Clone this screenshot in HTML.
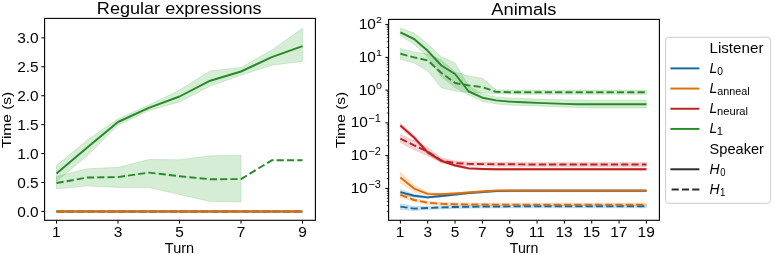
<!DOCTYPE html>
<html><head><meta charset="utf-8"><style>
html,body{margin:0;padding:0;background:#fff;}
svg{display:block;will-change:transform;}
text{font-family:"Liberation Sans", sans-serif;fill:#000;}
.t{font-size:13.6px;}
.s{font-size:9.6px;}
.sub{font-size:9.6px;font-style:normal;}
.ti{font-size:16px;}
</style></head><body>
<svg width="775" height="254" viewBox="0 0 775 254">
<rect width="775" height="254" fill="#fff"/>
<clipPath id="cl"><rect x="44.6" y="18.4" width="270.79999999999995" height="201.9"/></clipPath><g clip-path="url(#cl)"><path d="M56.50,165.50 L87.25,140.00 L118.00,118.70 L148.75,105.00 L179.50,90.00 L210.25,70.70 L241.00,67.50 L271.75,50.00 L302.50,28.30 L302.50,61.40 L271.75,65.30 L241.00,75.30 L210.25,86.00 L179.50,102.00 L148.75,110.70 L118.00,125.20 L87.25,155.70 L56.50,181.50Z" fill="#2ca02c" fill-opacity="0.2" stroke="#2ca02c" stroke-opacity="0.2" stroke-width="0.8"/><path d="M56.50,176.40 L87.25,168.70 L118.00,167.30 L148.75,159.50 L179.50,159.70 L210.25,155.80 L241.00,155.20 L241.00,202.00 L210.25,201.50 L179.50,194.60 L148.75,187.60 L118.00,187.40 L87.25,186.00 L56.50,189.00Z" fill="#2ca02c" fill-opacity="0.2" stroke="#2ca02c" stroke-opacity="0.2" stroke-width="0.8"/><polyline points="56.50,211.40 87.25,211.40 118.00,211.40 148.75,211.40 179.50,211.40 210.25,211.40 241.00,211.40 271.75,211.40 302.50,211.40" fill="none" stroke="#1a679c" stroke-width="1.95" stroke-linejoin="round" stroke-linecap="butt"/><polyline points="56.50,211.40 87.25,211.40 118.00,211.40 148.75,211.40 179.50,211.40 210.25,211.40 241.00,211.40 271.75,211.40 302.50,211.40" fill="none" stroke="#1a679c" stroke-width="1.95" stroke-linejoin="round" stroke-linecap="butt" stroke-dasharray="7.2,3.1" stroke-dashoffset="0"/><polyline points="56.50,211.40 87.25,211.40 118.00,211.40 148.75,211.40 179.50,211.40 210.25,211.40 241.00,211.40 271.75,211.40 302.50,211.40" fill="none" stroke="#dd6e0c" stroke-width="1.95" stroke-linejoin="round" stroke-linecap="butt"/><polyline points="56.50,211.40 87.25,211.40 118.00,211.40 148.75,211.40 179.50,211.40 210.25,211.40 241.00,211.40 271.75,211.40 302.50,211.40" fill="none" stroke="#dd6e0c" stroke-width="1.95" stroke-linejoin="round" stroke-linecap="butt" stroke-dasharray="7.2,3.1" stroke-dashoffset="0"/><polyline points="56.50,173.50 87.25,147.50 118.00,122.00 148.75,107.80 179.50,96.50 210.25,80.70 241.00,71.50 271.75,57.10 302.50,46.20" fill="none" stroke="#268b26" stroke-width="1.95" stroke-linejoin="round" stroke-linecap="butt"/><polyline points="56.50,183.00 87.25,177.50 118.00,177.10 148.75,172.60 179.50,176.20 210.25,179.20 241.00,179.10 271.75,160.30 302.50,160.30" fill="none" stroke="#268b26" stroke-width="1.95" stroke-linejoin="round" stroke-linecap="butt" stroke-dasharray="7.2,3.1" stroke-dashoffset="0"/></g><clipPath id="cr"><rect x="388.6" y="19.4" width="270.79999999999995" height="200.9"/></clipPath><g clip-path="url(#cr)"><path d="M400.40,189.60 L414.07,194.20 L427.73,196.40 L441.40,195.00 L455.07,193.50 L468.73,192.00 L482.40,191.00 L496.07,190.00 L509.74,189.90 L523.40,189.80 L537.07,189.80 L550.74,189.80 L564.40,189.80 L578.07,189.80 L591.74,189.80 L605.40,189.80 L619.07,189.80 L632.74,189.80 L646.41,189.80 L646.41,191.80 L632.74,191.80 L619.07,191.80 L605.40,191.80 L591.74,191.80 L578.07,191.80 L564.40,191.80 L550.74,191.80 L537.07,191.80 L523.40,191.80 L509.74,191.90 L496.07,192.00 L482.40,193.00 L468.73,194.00 L455.07,195.50 L441.40,197.00 L427.73,198.40 L414.07,197.20 L400.40,194.60Z" fill="#1f77b4" fill-opacity="0.2" stroke="#1f77b4" stroke-opacity="0.2" stroke-width="0.8"/><path d="M400.40,203.60 L414.07,206.60 L427.73,206.50 L441.40,205.90 L455.07,205.50 L468.73,205.30 L482.40,205.10 L496.07,205.00 L509.74,204.90 L523.40,204.80 L537.07,204.80 L550.74,204.80 L564.40,204.80 L578.07,204.80 L591.74,204.80 L605.40,204.80 L619.07,204.80 L632.74,204.80 L646.41,204.80 L646.41,207.80 L632.74,207.80 L619.07,207.80 L605.40,207.80 L591.74,207.80 L578.07,207.80 L564.40,207.80 L550.74,207.80 L537.07,207.80 L523.40,207.80 L509.74,207.90 L496.07,208.00 L482.40,208.10 L468.73,208.30 L455.07,208.50 L441.40,208.90 L427.73,209.50 L414.07,210.60 L400.40,209.60Z" fill="#1f77b4" fill-opacity="0.2" stroke="#1f77b4" stroke-opacity="0.2" stroke-width="0.8"/><path d="M400.40,171.90 L414.07,185.10 L427.73,192.40 L441.40,193.20 L455.07,192.50 L468.73,191.50 L482.40,190.50 L496.07,189.60 L509.74,189.50 L523.40,189.60 L537.07,189.60 L550.74,189.60 L564.40,189.60 L578.07,189.60 L591.74,189.60 L605.40,189.60 L619.07,189.60 L632.74,189.60 L646.41,189.60 L646.41,191.60 L632.74,191.60 L619.07,191.60 L605.40,191.60 L591.74,191.60 L578.07,191.60 L564.40,191.60 L550.74,191.60 L537.07,191.60 L523.40,191.60 L509.74,191.50 L496.07,191.60 L482.40,192.50 L468.73,193.50 L455.07,194.50 L441.40,195.20 L427.73,195.40 L414.07,192.10 L400.40,182.90Z" fill="#ff7f0e" fill-opacity="0.2" stroke="#ff7f0e" stroke-opacity="0.2" stroke-width="0.8"/><path d="M400.40,192.30 L414.07,198.50 L427.73,201.20 L441.40,202.30 L455.07,202.70 L468.73,202.90 L482.40,203.00 L496.07,203.10 L509.74,203.10 L523.40,203.10 L537.07,203.10 L550.74,203.10 L564.40,203.10 L578.07,203.10 L591.74,203.10 L605.40,203.10 L619.07,203.10 L632.74,203.10 L646.41,203.10 L646.41,206.10 L632.74,206.10 L619.07,206.10 L605.40,206.10 L591.74,206.10 L578.07,206.10 L564.40,206.10 L550.74,206.10 L537.07,206.10 L523.40,206.10 L509.74,206.10 L496.07,206.10 L482.40,206.00 L468.73,205.90 L455.07,205.70 L441.40,205.30 L427.73,204.20 L414.07,201.50 L400.40,197.30Z" fill="#ff7f0e" fill-opacity="0.2" stroke="#ff7f0e" stroke-opacity="0.2" stroke-width="0.8"/><path d="M400.40,123.10 L414.07,135.50 L427.73,150.40 L441.40,159.60 L455.07,164.50 L468.73,167.40 L482.40,168.00 L496.07,168.30 L509.74,168.30 L523.40,168.20 L537.07,168.20 L550.74,168.20 L564.40,168.20 L578.07,168.20 L591.74,168.20 L605.40,168.20 L619.07,168.20 L632.74,168.20 L646.41,168.20 L646.41,170.20 L632.74,170.20 L619.07,170.20 L605.40,170.20 L591.74,170.20 L578.07,170.20 L564.40,170.20 L550.74,170.20 L537.07,170.20 L523.40,170.20 L509.74,170.30 L496.07,170.30 L482.40,170.00 L468.73,169.40 L455.07,166.50 L441.40,162.00 L427.73,154.40 L414.07,139.50 L400.40,128.10Z" fill="#d62728" fill-opacity="0.2" stroke="#d62728" stroke-opacity="0.2" stroke-width="0.8"/><path d="M400.40,134.60 L414.07,140.80 L427.73,147.60 L441.40,158.00 L455.07,161.10 L468.73,161.90 L482.40,162.10 L496.07,162.20 L509.74,162.30 L523.40,162.40 L537.07,162.40 L550.74,162.40 L564.40,162.40 L578.07,162.40 L591.74,162.40 L605.40,162.40 L619.07,162.40 L632.74,162.40 L646.41,162.40 L646.41,166.40 L632.74,166.40 L619.07,166.40 L605.40,166.40 L591.74,166.40 L578.07,166.40 L564.40,166.40 L550.74,166.40 L537.07,166.40 L523.40,166.40 L509.74,166.30 L496.07,166.20 L482.40,166.10 L468.73,165.90 L455.07,165.10 L441.40,163.00 L427.73,155.60 L414.07,149.80 L400.40,142.60Z" fill="#d62728" fill-opacity="0.2" stroke="#d62728" stroke-opacity="0.2" stroke-width="0.8"/><path d="M400.40,28.00 L414.07,33.00 L427.73,44.00 L441.40,56.80 L455.07,63.00 L468.73,86.00 L482.40,94.00 L496.07,97.00 L509.74,98.00 L523.40,98.60 L537.07,99.10 L550.74,99.50 L564.40,99.80 L578.07,100.00 L591.74,100.20 L605.40,100.20 L619.07,100.20 L632.74,100.20 L646.41,100.20 L646.41,108.00 L632.74,108.00 L619.07,108.00 L605.40,108.00 L591.74,108.00 L578.07,107.50 L564.40,107.00 L550.74,106.50 L537.07,106.00 L523.40,105.50 L509.74,105.00 L496.07,103.90 L482.40,101.30 L468.73,95.00 L455.07,87.60 L441.40,76.90 L427.73,57.00 L414.07,44.00 L400.40,36.00Z" fill="#2ca02c" fill-opacity="0.2" stroke="#2ca02c" stroke-opacity="0.2" stroke-width="0.8"/><path d="M400.40,48.40 L414.07,51.90 L427.73,54.00 L441.40,60.00 L455.07,72.00 L468.73,76.00 L482.40,78.30 L496.07,89.80 L509.74,90.00 L523.40,90.20 L537.07,90.20 L550.74,90.20 L564.40,90.20 L578.07,90.20 L591.74,90.20 L605.40,90.20 L619.07,90.20 L632.74,90.20 L646.41,90.20 L646.41,94.30 L632.74,94.30 L619.07,94.30 L605.40,94.30 L591.74,94.30 L578.07,94.30 L564.40,94.30 L550.74,94.30 L537.07,94.30 L523.40,94.30 L509.74,94.00 L496.07,93.80 L482.40,93.00 L468.73,92.50 L455.07,91.00 L441.40,88.00 L427.73,71.00 L414.07,63.00 L400.40,59.50Z" fill="#2ca02c" fill-opacity="0.2" stroke="#2ca02c" stroke-opacity="0.2" stroke-width="0.8"/><polyline points="400.40,192.10 414.07,195.70 427.73,197.40 441.40,196.00 455.07,194.50 468.73,193.00 482.40,192.00 496.07,191.00 509.74,190.90 523.40,190.80 537.07,190.80 550.74,190.80 564.40,190.80 578.07,190.80 591.74,190.80 605.40,190.80 619.07,190.80 632.74,190.80 646.41,190.80" fill="none" stroke="#1a679c" stroke-width="1.95" stroke-linejoin="round" stroke-linecap="butt"/><polyline points="400.40,206.60 414.07,208.60 427.73,208.00 441.40,207.40 455.07,207.00 468.73,206.80 482.40,206.60 496.07,206.50 509.74,206.40 523.40,206.30 537.07,206.30 550.74,206.30 564.40,206.30 578.07,206.30 591.74,206.30 605.40,206.30 619.07,206.30 632.74,206.30 646.41,206.30" fill="none" stroke="#1a679c" stroke-width="1.95" stroke-linejoin="round" stroke-linecap="butt" stroke-dasharray="7.2,3.1" stroke-dashoffset="0"/><polyline points="400.40,177.40 414.07,188.60 427.73,193.90 441.40,194.20 455.07,193.50 468.73,192.50 482.40,191.50 496.07,190.60 509.74,190.50 523.40,190.60 537.07,190.60 550.74,190.60 564.40,190.60 578.07,190.60 591.74,190.60 605.40,190.60 619.07,190.60 632.74,190.60 646.41,190.60" fill="none" stroke="#dd6e0c" stroke-width="1.95" stroke-linejoin="round" stroke-linecap="butt"/><polyline points="400.40,194.80 414.07,200.00 427.73,202.70 441.40,203.80 455.07,204.20 468.73,204.40 482.40,204.50 496.07,204.60 509.74,204.60 523.40,204.60 537.07,204.60 550.74,204.60 564.40,204.60 578.07,204.60 591.74,204.60 605.40,204.60 619.07,204.60 632.74,204.60 646.41,204.60" fill="none" stroke="#dd6e0c" stroke-width="1.95" stroke-linejoin="round" stroke-linecap="butt" stroke-dasharray="7.2,3.1" stroke-dashoffset="0"/><polyline points="400.40,125.60 414.07,137.50 427.73,152.40 441.40,160.80 455.07,165.50 468.73,168.40 482.40,169.00 496.07,169.30 509.74,169.30 523.40,169.20 537.07,169.20 550.74,169.20 564.40,169.20 578.07,169.20 591.74,169.20 605.40,169.20 619.07,169.20 632.74,169.20 646.41,169.20" fill="none" stroke="#ba2122" stroke-width="1.95" stroke-linejoin="round" stroke-linecap="butt"/><polyline points="400.40,138.60 414.07,145.30 427.73,151.60 441.40,160.50 455.07,163.10 468.73,163.90 482.40,164.10 496.07,164.20 509.74,164.30 523.40,164.40 537.07,164.40 550.74,164.40 564.40,164.40 578.07,164.40 591.74,164.40 605.40,164.40 619.07,164.40 632.74,164.40 646.41,164.40" fill="none" stroke="#ba2122" stroke-width="1.95" stroke-linejoin="round" stroke-linecap="butt" stroke-dasharray="7.2,3.1" stroke-dashoffset="0"/><polyline points="400.40,32.30 414.07,39.00 427.73,50.80 441.40,65.50 455.07,74.00 468.73,91.50 482.40,97.70 496.07,100.40 509.74,101.60 523.40,102.30 537.07,102.90 550.74,103.40 564.40,103.90 578.07,104.20 591.74,104.30 605.40,104.30 619.07,104.30 632.74,104.30 646.41,104.30" fill="none" stroke="#268b26" stroke-width="1.95" stroke-linejoin="round" stroke-linecap="butt"/><polyline points="400.40,53.80 414.07,57.40 427.73,60.40 441.40,73.00 455.07,83.00 468.73,85.40 482.40,87.10 496.07,91.90 509.74,92.20 523.40,92.30 537.07,92.30 550.74,92.30 564.40,92.30 578.07,92.30 591.74,92.30 605.40,92.30 619.07,92.30 632.74,92.30 646.41,92.30" fill="none" stroke="#268b26" stroke-width="1.95" stroke-linejoin="round" stroke-linecap="butt" stroke-dasharray="7.2,3.1" stroke-dashoffset="0"/></g><rect x="44.6" y="18.4" width="270.79999999999995" height="201.9" fill="none" stroke="#000" stroke-width="1.1"/><rect x="388.6" y="19.4" width="270.79999999999995" height="200.9" fill="none" stroke="#000" stroke-width="1.1"/><line x1="41.300000000000004" y1="211.40" x2="44.6" y2="211.40" stroke="#000" stroke-width="1"/><text transform="translate(17.15,216.90) scale(1.0800,1)" font-size="14.3">0.0</text><line x1="41.300000000000004" y1="182.48" x2="44.6" y2="182.48" stroke="#000" stroke-width="1"/><text transform="translate(17.15,187.98) scale(1.0800,1)" font-size="14.3">0.5</text><line x1="41.300000000000004" y1="153.56" x2="44.6" y2="153.56" stroke="#000" stroke-width="1"/><text transform="translate(17.15,159.06) scale(1.0800,1)" font-size="14.3">1.0</text><line x1="41.300000000000004" y1="124.64" x2="44.6" y2="124.64" stroke="#000" stroke-width="1"/><text transform="translate(17.15,130.14) scale(1.0800,1)" font-size="14.3">1.5</text><line x1="41.300000000000004" y1="95.72" x2="44.6" y2="95.72" stroke="#000" stroke-width="1"/><text transform="translate(17.15,101.22) scale(1.0800,1)" font-size="14.3">2.0</text><line x1="41.300000000000004" y1="66.80" x2="44.6" y2="66.80" stroke="#000" stroke-width="1"/><text transform="translate(17.15,72.30) scale(1.0800,1)" font-size="14.3">2.5</text><line x1="41.300000000000004" y1="37.88" x2="44.6" y2="37.88" stroke="#000" stroke-width="1"/><text transform="translate(17.15,43.38) scale(1.0800,1)" font-size="14.3">3.0</text><line x1="56.50" y1="220.3" x2="56.50" y2="223.60000000000002" stroke="#000" stroke-width="1"/><text transform="translate(51.94,236.50) scale(1.0800,1)" font-size="14.3">1</text><line x1="118.00" y1="220.3" x2="118.00" y2="223.60000000000002" stroke="#000" stroke-width="1"/><text transform="translate(113.75,236.50) scale(1.0800,1)" font-size="14.3">3</text><line x1="179.50" y1="220.3" x2="179.50" y2="223.60000000000002" stroke="#000" stroke-width="1"/><text transform="translate(175.25,236.50) scale(1.0800,1)" font-size="14.3">5</text><line x1="241.00" y1="220.3" x2="241.00" y2="223.60000000000002" stroke="#000" stroke-width="1"/><text transform="translate(236.68,236.50) scale(1.0800,1)" font-size="14.3">7</text><line x1="302.50" y1="220.3" x2="302.50" y2="223.60000000000002" stroke="#000" stroke-width="1"/><text transform="translate(298.18,236.50) scale(1.0800,1)" font-size="14.3">9</text><line x1="400.40" y1="220.3" x2="400.40" y2="223.60000000000002" stroke="#000" stroke-width="1"/><text transform="translate(395.84,236.50) scale(1.0800,1)" font-size="14.3">1</text><line x1="427.73" y1="220.3" x2="427.73" y2="223.60000000000002" stroke="#000" stroke-width="1"/><text transform="translate(423.49,236.50) scale(1.0800,1)" font-size="14.3">3</text><line x1="455.07" y1="220.3" x2="455.07" y2="223.60000000000002" stroke="#000" stroke-width="1"/><text transform="translate(450.82,236.50) scale(1.0800,1)" font-size="14.3">5</text><line x1="482.40" y1="220.3" x2="482.40" y2="223.60000000000002" stroke="#000" stroke-width="1"/><text transform="translate(478.07,236.50) scale(1.0800,1)" font-size="14.3">7</text><line x1="509.73" y1="220.3" x2="509.73" y2="223.60000000000002" stroke="#000" stroke-width="1"/><text transform="translate(505.41,236.50) scale(1.0800,1)" font-size="14.3">9</text><line x1="537.06" y1="220.3" x2="537.06" y2="223.60000000000002" stroke="#000" stroke-width="1"/><text transform="translate(528.80,236.50) scale(1.0800,1)" font-size="14.3">11</text><line x1="564.40" y1="220.3" x2="564.40" y2="223.60000000000002" stroke="#000" stroke-width="1"/><text transform="translate(555.52,236.50) scale(1.0800,1)" font-size="14.3">13</text><line x1="591.73" y1="220.3" x2="591.73" y2="223.60000000000002" stroke="#000" stroke-width="1"/><text transform="translate(582.85,236.50) scale(1.0800,1)" font-size="14.3">15</text><line x1="619.06" y1="220.3" x2="619.06" y2="223.60000000000002" stroke="#000" stroke-width="1"/><text transform="translate(610.26,236.50) scale(1.0800,1)" font-size="14.3">17</text><line x1="646.40" y1="220.3" x2="646.40" y2="223.60000000000002" stroke="#000" stroke-width="1"/><text transform="translate(637.59,236.50) scale(1.0800,1)" font-size="14.3">19</text><line x1="386.8" y1="211.30" x2="388.6" y2="211.30" stroke="#000" stroke-width="0.75"/><line x1="386.8" y1="205.53" x2="388.6" y2="205.53" stroke="#000" stroke-width="0.75"/><line x1="386.8" y1="201.44" x2="388.6" y2="201.44" stroke="#000" stroke-width="0.75"/><line x1="386.8" y1="198.26" x2="388.6" y2="198.26" stroke="#000" stroke-width="0.75"/><line x1="386.8" y1="195.67" x2="388.6" y2="195.67" stroke="#000" stroke-width="0.75"/><line x1="386.8" y1="193.47" x2="388.6" y2="193.47" stroke="#000" stroke-width="0.75"/><line x1="386.8" y1="191.57" x2="388.6" y2="191.57" stroke="#000" stroke-width="0.75"/><line x1="386.8" y1="189.90" x2="388.6" y2="189.90" stroke="#000" stroke-width="0.75"/><line x1="385.3" y1="188.40" x2="388.6" y2="188.40" stroke="#000" stroke-width="1"/><line x1="386.8" y1="178.54" x2="388.6" y2="178.54" stroke="#000" stroke-width="0.75"/><line x1="386.8" y1="172.77" x2="388.6" y2="172.77" stroke="#000" stroke-width="0.75"/><line x1="386.8" y1="168.68" x2="388.6" y2="168.68" stroke="#000" stroke-width="0.75"/><line x1="386.8" y1="165.50" x2="388.6" y2="165.50" stroke="#000" stroke-width="0.75"/><line x1="386.8" y1="162.91" x2="388.6" y2="162.91" stroke="#000" stroke-width="0.75"/><line x1="386.8" y1="160.71" x2="388.6" y2="160.71" stroke="#000" stroke-width="0.75"/><line x1="386.8" y1="158.81" x2="388.6" y2="158.81" stroke="#000" stroke-width="0.75"/><line x1="386.8" y1="157.14" x2="388.6" y2="157.14" stroke="#000" stroke-width="0.75"/><line x1="385.3" y1="155.64" x2="388.6" y2="155.64" stroke="#000" stroke-width="1"/><line x1="386.8" y1="145.78" x2="388.6" y2="145.78" stroke="#000" stroke-width="0.75"/><line x1="386.8" y1="140.01" x2="388.6" y2="140.01" stroke="#000" stroke-width="0.75"/><line x1="386.8" y1="135.92" x2="388.6" y2="135.92" stroke="#000" stroke-width="0.75"/><line x1="386.8" y1="132.74" x2="388.6" y2="132.74" stroke="#000" stroke-width="0.75"/><line x1="386.8" y1="130.15" x2="388.6" y2="130.15" stroke="#000" stroke-width="0.75"/><line x1="386.8" y1="127.95" x2="388.6" y2="127.95" stroke="#000" stroke-width="0.75"/><line x1="386.8" y1="126.05" x2="388.6" y2="126.05" stroke="#000" stroke-width="0.75"/><line x1="386.8" y1="124.38" x2="388.6" y2="124.38" stroke="#000" stroke-width="0.75"/><line x1="385.3" y1="122.88" x2="388.6" y2="122.88" stroke="#000" stroke-width="1"/><line x1="386.8" y1="113.02" x2="388.6" y2="113.02" stroke="#000" stroke-width="0.75"/><line x1="386.8" y1="107.25" x2="388.6" y2="107.25" stroke="#000" stroke-width="0.75"/><line x1="386.8" y1="103.16" x2="388.6" y2="103.16" stroke="#000" stroke-width="0.75"/><line x1="386.8" y1="99.98" x2="388.6" y2="99.98" stroke="#000" stroke-width="0.75"/><line x1="386.8" y1="97.39" x2="388.6" y2="97.39" stroke="#000" stroke-width="0.75"/><line x1="386.8" y1="95.19" x2="388.6" y2="95.19" stroke="#000" stroke-width="0.75"/><line x1="386.8" y1="93.29" x2="388.6" y2="93.29" stroke="#000" stroke-width="0.75"/><line x1="386.8" y1="91.62" x2="388.6" y2="91.62" stroke="#000" stroke-width="0.75"/><line x1="385.3" y1="90.12" x2="388.6" y2="90.12" stroke="#000" stroke-width="1"/><line x1="386.8" y1="80.26" x2="388.6" y2="80.26" stroke="#000" stroke-width="0.75"/><line x1="386.8" y1="74.49" x2="388.6" y2="74.49" stroke="#000" stroke-width="0.75"/><line x1="386.8" y1="70.40" x2="388.6" y2="70.40" stroke="#000" stroke-width="0.75"/><line x1="386.8" y1="67.22" x2="388.6" y2="67.22" stroke="#000" stroke-width="0.75"/><line x1="386.8" y1="64.63" x2="388.6" y2="64.63" stroke="#000" stroke-width="0.75"/><line x1="386.8" y1="62.43" x2="388.6" y2="62.43" stroke="#000" stroke-width="0.75"/><line x1="386.8" y1="60.53" x2="388.6" y2="60.53" stroke="#000" stroke-width="0.75"/><line x1="386.8" y1="58.86" x2="388.6" y2="58.86" stroke="#000" stroke-width="0.75"/><line x1="385.3" y1="57.36" x2="388.6" y2="57.36" stroke="#000" stroke-width="1"/><line x1="386.8" y1="47.50" x2="388.6" y2="47.50" stroke="#000" stroke-width="0.75"/><line x1="386.8" y1="41.73" x2="388.6" y2="41.73" stroke="#000" stroke-width="0.75"/><line x1="386.8" y1="37.64" x2="388.6" y2="37.64" stroke="#000" stroke-width="0.75"/><line x1="386.8" y1="34.46" x2="388.6" y2="34.46" stroke="#000" stroke-width="0.75"/><line x1="386.8" y1="31.87" x2="388.6" y2="31.87" stroke="#000" stroke-width="0.75"/><line x1="386.8" y1="29.67" x2="388.6" y2="29.67" stroke="#000" stroke-width="0.75"/><line x1="386.8" y1="27.77" x2="388.6" y2="27.77" stroke="#000" stroke-width="0.75"/><line x1="386.8" y1="26.10" x2="388.6" y2="26.10" stroke="#000" stroke-width="0.75"/><line x1="385.3" y1="24.60" x2="388.6" y2="24.60" stroke="#000" stroke-width="1"/><text transform="translate(358.77,29.20) scale(1.0800,1)" font-size="14.3">10</text><text transform="translate(376.06,23.40) scale(1.12,1)" font-size="9.6">2</text><text transform="translate(358.77,61.96) scale(1.0800,1)" font-size="14.3">10</text><text transform="translate(376.06,56.16) scale(1.12,1)" font-size="9.6">1</text><text transform="translate(358.77,94.72) scale(1.0800,1)" font-size="14.3">10</text><text transform="translate(376.06,88.92) scale(1.12,1)" font-size="9.6">0</text><text transform="translate(350.77,127.48) scale(1.0800,1)" font-size="14.3">10</text><text transform="translate(368.35,122.28) scale(1.06,1)" font-size="10.4">−1</text><text transform="translate(350.77,160.24) scale(1.0800,1)" font-size="14.3">10</text><text transform="translate(368.35,155.04) scale(1.06,1)" font-size="10.4">−2</text><text transform="translate(350.77,193.00) scale(1.0800,1)" font-size="14.3">10</text><text transform="translate(368.35,187.80) scale(1.06,1)" font-size="10.4">−3</text><text transform="translate(96.85,14.10) scale(1.1030,1)" font-size="16.4">Regular expressions</text><text transform="translate(491.35,14.80) scale(1.1182,1)" font-size="16.4">Animals</text><text transform="translate(164.86,252.50) scale(1.0363,1)" font-size="14.0">Turn</text><text transform="translate(509.82,252.50) scale(1.0141,1)" font-size="14.0">Turn</text><text transform="translate(11.40,148.01) rotate(-90) scale(1.1583,1)" font-size="13.4">Time (s)</text><text transform="translate(345.00,148.01) rotate(-90) scale(1.1583,1)" font-size="13.4">Time (s)</text><rect x="665.6" y="37.3" width="104.8" height="166.0" rx="2.8" ry="2.8" fill="#fff" fill-opacity="0.8" stroke="#cccccc" stroke-width="1"/><text transform="translate(709.49,53.20) scale(1.0537,1)" font-size="14.4">Listener</text><text transform="translate(709.52,153.90) scale(1.0161,1)" font-size="14.4">Speaker</text><polyline points="670.40,68.38 699.40,68.38" fill="none" stroke="#1a679c" stroke-width="1.95" stroke-linejoin="round" stroke-linecap="butt"/><text transform="translate(709.48,72.68) scale(1.0000,1)" font-size="13.9" font-style="italic">L</text><text transform="translate(717.24,74.88) scale(1.0100,1)" font-size="10.2">0</text><polyline points="670.40,88.56 699.40,88.56" fill="none" stroke="#dd6e0c" stroke-width="1.95" stroke-linejoin="round" stroke-linecap="butt"/><text transform="translate(709.48,92.86) scale(1.0000,1)" font-size="13.9" font-style="italic">L</text><text transform="translate(717.37,95.06) scale(1.0182,1)" font-size="10.6">anneal</text><polyline points="670.40,108.74 699.40,108.74" fill="none" stroke="#ba2122" stroke-width="1.95" stroke-linejoin="round" stroke-linecap="butt"/><text transform="translate(709.48,113.04) scale(1.0000,1)" font-size="13.9" font-style="italic">L</text><text transform="translate(717.02,115.24) scale(1.0542,1)" font-size="10.6">neural</text><polyline points="670.40,128.92 699.40,128.92" fill="none" stroke="#268b26" stroke-width="1.95" stroke-linejoin="round" stroke-linecap="butt"/><text transform="translate(709.48,133.22) scale(1.0000,1)" font-size="13.9" font-style="italic">L</text><text transform="translate(716.75,135.42) scale(1.1047,1)" font-size="10.2">1</text><polyline points="670.40,169.28 699.40,169.28" fill="none" stroke="#2c2c2c" stroke-width="1.95" stroke-linejoin="round" stroke-linecap="butt"/><text transform="translate(709.48,173.58) scale(1.0000,1)" font-size="13.9" font-style="italic">H</text><text transform="translate(720.32,175.78) scale(0.9210,1)" font-size="10.2">0</text><polyline points="670.40,189.46 699.40,189.46" fill="none" stroke="#2c2c2c" stroke-width="1.95" stroke-linejoin="round" stroke-linecap="butt" stroke-dasharray="7.2,3.1" stroke-dashoffset="9.1"/><text transform="translate(709.48,193.76) scale(1.0000,1)" font-size="13.9" font-style="italic">H</text><text transform="translate(719.91,195.96) scale(0.9596,1)" font-size="10.2">1</text>
</svg></body></html>
